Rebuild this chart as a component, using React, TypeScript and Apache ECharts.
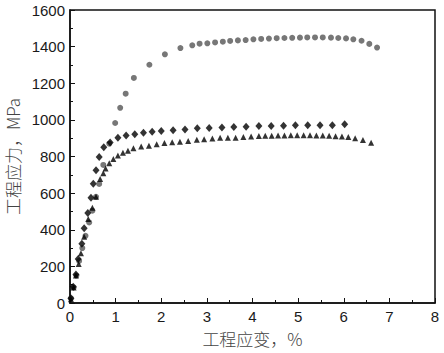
import React, { useEffect, useRef } from "react";
import * as echarts from "echarts";

const xTicks = [0, 1, 2, 3, 4, 5, 6, 7, 8];
const yTicks = [0, 200, 400, 600, 800, 1000, 1200, 1400, 1600];

const circleX = [0.02, 0.08, 0.14, 0.2, 0.27, 0.34, 0.42, 0.49, 0.57, 0.64, 0.73, 0.86, 0.99, 1.1, 1.22, 1.4, 1.74, 2.08, 2.42, 2.68, 2.84, 3.01, 3.18, 3.35, 3.51, 3.68, 3.85, 4.02, 4.19, 4.36, 4.53, 4.7, 4.87, 5.04, 5.2, 5.37, 5.54, 5.72, 5.88, 6.05, 6.21, 6.39, 6.56, 6.73];
const circleY = [25, 85, 150, 230, 300, 367, 440, 504, 580, 650, 754, 870, 983, 1066, 1143, 1229, 1301, 1358, 1392, 1407, 1416, 1418, 1423, 1427, 1431, 1434, 1436, 1440, 1442, 1444, 1446, 1447, 1448, 1449, 1450, 1450, 1450, 1449, 1447, 1445, 1440, 1432, 1415, 1395];

const diamondX = [0.02, 0.07, 0.13, 0.18, 0.26, 0.31, 0.39, 0.46, 0.51, 0.57, 0.64, 0.74, 0.88, 1.05, 1.23, 1.42, 1.61, 1.8, 2.0, 2.26, 2.52, 2.79, 3.05, 3.33, 3.59, 3.86, 4.14, 4.41, 4.68, 4.94, 5.21, 5.48, 5.75, 6.02];
const diamondY = [26, 89, 155, 240, 324, 408, 491, 575, 651, 725, 797, 850, 877, 903, 914, 921, 930, 935, 939, 943, 948, 954, 956, 959, 961, 963, 967, 967, 968, 970, 970, 970, 970, 976];

const triX = [0.02, 0.08, 0.13, 0.19, 0.24, 0.31, 0.4, 0.49, 0.57, 0.66, 0.73, 0.78, 0.86, 0.95, 1.05, 1.16, 1.27, 1.39, 1.56, 1.73, 1.9, 2.07, 2.24, 2.41, 2.59, 2.78, 2.94, 3.12, 3.29, 3.46, 3.63, 3.8, 3.97, 4.14, 4.28, 4.42, 4.56, 4.7, 4.84, 4.98, 5.12, 5.26, 5.4, 5.54, 5.68, 5.82, 5.96, 6.1, 6.25, 6.42, 6.6];
const triY = [20, 85, 150, 213, 271, 362, 459, 520, 580, 677, 708, 735, 763, 786, 806, 821, 832, 845, 854, 859, 867, 874, 878, 881, 885, 891, 894, 898, 902, 903, 903, 907, 909, 912, 913, 913, 914, 915, 916, 916, 916, 916, 915, 914, 913, 911, 909, 906, 899, 890, 875];

const xName = "工程应变，%";
const yName = "工程应力，MPa";

function pairs(xs: number[], ys: number[]) {
  return xs.map((x, i) => [x, ys[i]]);
}

export default function App() {
  const ref = useRef<HTMLDivElement>(null);
  useEffect(() => {
    if (!ref.current) return;
    const chart = echarts.init(ref.current, undefined, { renderer: "svg" });
    const tickFont = { fontFamily: "Liberation Sans, Arial, sans-serif", fontSize: 15, color: "#1a1a1a", formatter: (v: number) => String(v) };
    const nameFont = { fontFamily: "Noto Sans CJK SC", fontSize: 17, color: "#444", fontWeight: 300 };
    chart.setOption({
      animation: false,
      grid: { left: 70, right: 9, top: 10, bottom: 50, show: true, borderColor: "#111", borderWidth: 1.5, backgroundColor: "transparent", outerBoundsMode: "none", containLabel: false },
      xAxis: {
        type: "value",
        min: xTicks[0],
        max: xTicks[xTicks.length - 1],
        interval: 1,
        name: xName,
        nameLocation: "middle",
        nameGap: 27,
        nameTextStyle: nameFont,
        axisLine: { show: true, lineStyle: { color: "#111", width: 1.5 } },
        axisTick: { show: true, inside: true, length: 5, lineStyle: { color: "#111" } },
        minorTick: { show: true, splitNumber: 2, length: 3, lineStyle: { color: "#111" } },
        splitLine: { show: false },
        axisLabel: { ...tickFont, margin: 6 },
      },
      yAxis: {
        type: "value",
        min: yTicks[0],
        max: yTicks[yTicks.length - 1],
        interval: 200,
        name: yName,
        nameLocation: "middle",
        nameGap: 47,
        nameTextStyle: nameFont,
        axisLine: { show: true, lineStyle: { color: "#111", width: 1.5 } },
        axisTick: { show: true, inside: true, length: 5, lineStyle: { color: "#111" } },
        minorTick: { show: true, splitNumber: 2, length: 3, lineStyle: { color: "#111" } },
        splitLine: { show: false },
        axisLabel: { ...tickFont, margin: 5 },
      },
      series: [
        {
          type: "scatter",
          data: pairs(circleX, circleY),
          symbol: "circle",
          symbolSize: 6,
          itemStyle: { color: "#555" },
          z: 2,
        },
        {
          type: "scatter",
          data: pairs(diamondX, diamondY),
          symbol: "diamond",
          symbolSize: [7, 8],
          itemStyle: { color: "#000" },
          z: 3,
        },
        {
          type: "scatter",
          data: pairs(triX, triY),
          symbol: "triangle",
          symbolSize: 6,
          itemStyle: { color: "#000" },
          z: 4,
        },
      ],
    });
    return () => chart.dispose();
  }, []);
  return <div ref={ref} style={{ width: 444, height: 353, position: "absolute", left: 0, top: 0 }} />;
}
